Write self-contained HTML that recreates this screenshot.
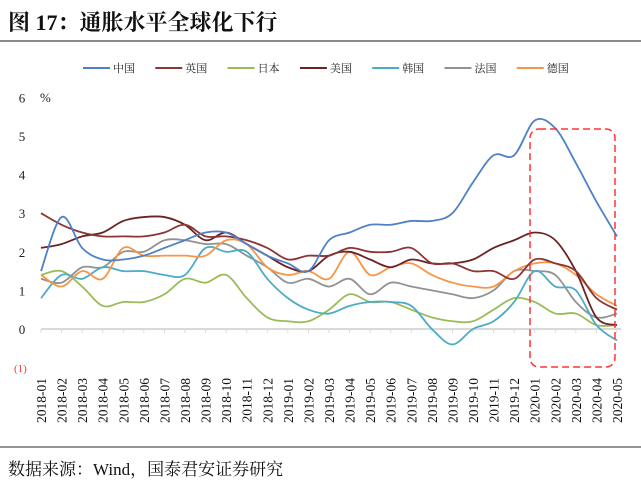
<!DOCTYPE html>
<html><head><meta charset="utf-8"><style>
body{margin:0;background:#fff;width:641px;height:488px;overflow:hidden;font-family:"Liberation Serif","Noto Serif CJK SC",serif;}
</style></head><body>
<svg id="chart" width="641" height="488" xmlns="http://www.w3.org/2000/svg">
<text x="8" y="30" font-size="22" font-weight="bold" font-family="Liberation Serif, Noto Serif CJK SC, serif" fill="#111">图 17：通胀水平全球化下行</text>
<line x1="0" y1="41" x2="641" y2="41" stroke="#444" stroke-width="1.2"/>
<line x1="0" y1="447" x2="641" y2="447" stroke="#555" stroke-width="1.2"/>
<text x="8" y="475" font-size="17" font-family="Liberation Serif, Noto Serif CJK SC, serif" fill="#111">数据来源：Wind，国泰君安证券研究</text>
<text x="40" y="102" font-size="13" fill="#222">%</text>
<text x="14" y="372" font-size="11" fill="#f33">(1)</text>
<g id="grid"></g><g id="series"></g><g id="legend"></g>
<rect x="530" y="129" width="85" height="238" rx="9" fill="none" stroke="#f33" stroke-width="1.5" stroke-dasharray="7,4"/>
</svg>
<script>
const categories=["2018-01","2018-02","2018-03","2018-04","2018-05","2018-06","2018-07","2018-08","2018-09","2018-10","2018-11","2018-12","2019-01","2019-02","2019-03","2019-04","2019-05","2019-06","2019-07","2019-08","2019-09","2019-10","2019-11","2019-12","2020-01","2020-02","2020-03","2020-04","2020-05"];
const seriesNames=["中国","英国","日本","美国","韩国","法国","德国"];
const yTicks=[0,1,2,3,4,5,6];
const china=[1.5,2.9,2.1,1.8,1.8,1.9,2.1,2.3,2.5,2.5,2.2,1.9,1.7,1.5,2.3,2.5,2.7,2.7,2.8,2.8,3.0,3.8,4.5,4.5,5.4,5.2,4.3,3.3,2.4];
const uk=[3.0,2.7,2.5,2.4,2.4,2.4,2.5,2.7,2.4,2.4,2.3,2.1,1.8,1.9,1.9,2.1,2.0,2.0,2.1,1.7,1.7,1.5,1.5,1.3,1.8,1.7,1.5,0.8,0.5];
const japan=[1.4,1.5,1.1,0.6,0.7,0.7,0.9,1.3,1.2,1.4,0.8,0.3,0.2,0.2,0.5,0.9,0.7,0.7,0.5,0.3,0.2,0.2,0.5,0.8,0.7,0.4,0.4,0.1,0.1];
const usa=[2.1,2.2,2.4,2.5,2.8,2.9,2.9,2.7,2.3,2.5,2.2,1.9,1.6,1.5,1.9,2.0,1.8,1.6,1.8,1.7,1.7,1.8,2.1,2.3,2.5,2.3,1.5,0.3,0.1];
const korea=[0.8,1.4,1.3,1.6,1.5,1.5,1.4,1.4,2.1,2.0,2.0,1.3,0.8,0.5,0.4,0.6,0.7,0.7,0.6,0.0,-0.4,0.0,0.2,0.7,1.5,1.1,1.0,0.1,-0.3];
const france=[1.3,1.2,1.6,1.6,2.0,2.0,2.3,2.3,2.2,2.2,1.9,1.6,1.2,1.3,1.1,1.3,0.9,1.2,1.1,1.0,0.9,0.8,1.0,1.5,1.5,1.4,0.7,0.3,0.4];
const germany=[1.4,1.1,1.5,1.3,2.1,1.9,1.9,1.9,1.9,2.3,2.2,1.6,1.4,1.5,1.3,2.0,1.4,1.6,1.7,1.4,1.2,1.1,1.1,1.5,1.7,1.7,1.4,0.9,0.6];
const seriesData=[china,uk,japan,usa,korea,france,germany];
const colors=["#4f81c7","#8b3535","#9bbb59","#6a2424","#4bacc6","#929292","#f79646"];
const slugs=["china","uk","japan","usa","korea","france","germany"];
const NS="http://www.w3.org/2000/svg";
const x0=41,x1=617,y0=329,yUnit=38.6;
const xs=i=>x0+i*(x1-x0)/(categories.length-1);
const ys=v=>y0-v*yUnit;
function mk(t,a,p){const e=document.createElementNS(NS,t);for(const k in a)e.setAttribute(k,a[k]);p.appendChild(e);return e;}
const grid=document.getElementById('grid');
const ax=mk('line',{x1:x0,y1:y0,x2:x1+4,y2:y0,stroke:'#d9d9d9','stroke-width':2},grid);


categories.forEach((c,i)=>{
 const t=mk('line',{x1:xs(i),y1:y0,x2:xs(i),y2:y0+4,stroke:'#d9d9d9'},grid);
 
 
 const l=mk('text',{x:0,y:0,'font-size':13.5,fill:'#111','text-anchor':'end',transform:`translate(${xs(i)+5},378) rotate(-90)`},grid);
 l.textContent=c;
 
 
});
yTicks.forEach(v=>{
 const l=mk('text',{x:22,y:ys(v)+5,'font-size':13,fill:'#222','text-anchor':'middle'},grid);
 l.textContent=v;
 
 
});
function smooth(pts){let d=`M${pts[0][0]},${pts[0][1]}`;for(let i=0;i<pts.length-1;i++){const p0=pts[Math.max(0,i-1)],p1=pts[i],p2=pts[i+1],p3=pts[Math.min(pts.length-1,i+2)];
 d+=` C${p1[0]+(p2[0]-p0[0])/6},${p1[1]+(p2[1]-p0[1])/6} ${p2[0]-(p3[0]-p1[0])/6},${p2[1]-(p3[1]-p1[1])/6} ${p2[0]},${p2[1]}`;}return d;}
const sg=document.getElementById('series');
[5,2,4,6,3,1,0].forEach(k=>{
 const pts=seriesData[k].map((v,i)=>[xs(i),ys(v)]);
 const p=mk('path',{d:smooth(pts),fill:'none',stroke:colors[k],'stroke-width':1.8},sg);
 
 
});
const lg=document.getElementById('legend');
seriesNames.forEach((n,k)=>{
 const lx=83+k*72.3;
 const g=mk('g',{},lg);
 
 
 mk('line',{x1:lx,y1:68,x2:lx+27,y2:68,stroke:colors[k],'stroke-width':2},g);
 const t=mk('text',{x:lx+30,y:72,'font-size':11,fill:'#222','font-family':'Noto Serif CJK SC, serif'},g);
 t.textContent=n;
});
</script>
</body></html>
